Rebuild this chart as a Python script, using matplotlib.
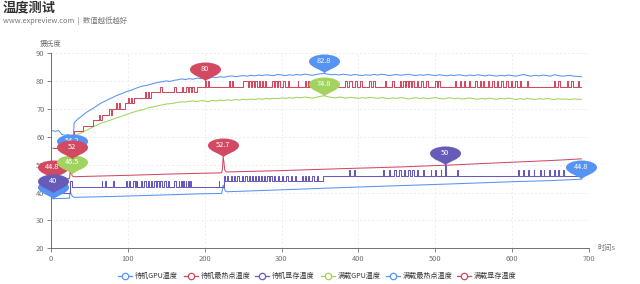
import matplotlib
matplotlib.use("Agg")
import numpy as np
import matplotlib.pyplot as plt
from matplotlib.path import Path
from matplotlib.lines import Line2D

plt.rcParams['font.family'] = ['Noto Sans CJK SC', 'DejaVu Sans']

# ---------------- data ----------------
title = "温度测试"
subtitle = "www.expreview.com  |  数值越低越好"
y_name = "摄氏度"
x_name = "时间s"
series_names = ["待机GPU温度", "待机最热点温度", "待机显存温度",
                "满载GPU温度", "满载最热点温度", "满载显存温度"]
series_colors = ["#5793f3", "#d14a61", "#675bba", "#a2d35f", "#5793f3", "#d14a61"]

x_ticks = [0, 100, 200, 300, 400, 500, 600, 700]
y_ticks = [20, 30, 40, 50, 60, 70, 80, 90]

# idle GPU temperature
t_idle_gpu = [2, 10, 18, 24, 25, 26, 28, 30, 80, 140, 200, 222, 223, 224, 225,
              227, 229, 300, 380, 454, 520, 600, 650, 690]
v_idle_gpu = [37.8, 37.9, 37.9, 38.0, 40.4, 39.6, 38.6, 38.3, 38.6, 39.1, 39.6,
              39.7, 41.0, 42.7, 41.8, 40.6, 40.3, 41.0, 41.8, 42.5, 43.1, 43.9,
              44.3, 44.8]

# idle hotspot temperature
t_idle_hot = [2, 10, 18, 24, 25, 26, 28, 30, 100, 160, 222, 223, 224, 225, 226,
              228, 300, 380, 454, 520, 600, 650, 690]
v_idle_hot = [44.8, 44.9, 44.9, 45.0, 47.6, 46.8, 45.9, 45.7, 46.2, 46.7, 47.1,
              48.5, 52.7, 51.0, 48.2, 47.4, 47.9, 48.6, 49.2, 49.9, 50.9, 51.5,
              52.1]

# idle memory temperature (value changes, held until next change)
idle_vram_steps = [
    (2, 40), (25, 44), (27, 42),
    (66, 44), (67, 42), (70, 44), (71, 42), (81, 44), (82, 42),
    (98, 44), (99, 42), (101, 44), (103, 42), (107, 44), (109, 42), (111, 44), (112, 42),
    (117, 44), (119, 42), (121, 44), (123, 42), (126, 44), (128, 42), (130, 44), (132, 42),
    (134, 44), (136, 42), (138, 44), (140, 42), (142, 44), (144, 42), (147, 44), (149, 42),
    (152, 44), (154, 42), (160, 44), (162, 42), (166, 44), (167, 42), (169, 44), (170, 42),
    (172, 44), (173, 42), (175, 44), (176, 42), (178, 44), (179, 42), (181, 44), (182, 42),
    (218, 44), (219, 42),
    (225, 46), (227, 44), (229, 46), (230, 44), (234, 46), (236, 44), (238, 46), (240, 44),
    (242, 46), (244, 44), (248, 46), (250, 44), (253, 46), (255, 44), (257, 46), (259, 44),
    (261, 46), (263, 44), (265, 46), (267, 44), (269, 46), (271, 44), (273, 46), (275, 44),
    (277, 46), (279, 44), (281, 46), (283, 44), (285, 46), (287, 44), (290, 46), (292, 44),
    (295, 46), (297, 44), (300, 46), (302, 44), (306, 46), (308, 44), (312, 46), (314, 44),
    (318, 46), (319, 44), (326, 46), (328, 44), (330, 46), (332, 44), (334, 46), (336, 44),
    (340, 46), (342, 44), (346, 46), (348, 44), (354, 46),
    (388, 48), (389, 46), (394, 48), (395, 46),
    (432, 48), (433, 46), (440, 48), (441, 46), (446, 48), (449, 46), (453, 48), (456, 46),
    (459, 48), (461, 46), (464, 48), (467, 46), (470, 48), (472, 46), (476, 48), (478, 46),
    (484, 48), (485, 46), (494, 48), (495, 46), (500, 48), (501, 46), (507, 48), (508, 46),
    (513, 50), (514, 46), (528, 48), (529, 46),
    (608, 48), (609, 46), (614, 48), (615, 46), (621, 48), (622, 46), (628, 48), (629, 46),
    (636, 48), (638, 46), (641, 48), (642, 46), (648, 48), (649, 46), (654, 48), (656, 46),
    (660, 48), (661, 46), (666, 48), (667, 46), (690, 46),
]

# load GPU / hotspot temperatures share one sampling grid
t_load = [2, 6, 10, 14, 18, 22, 24, 25, 27, 29] + list(range(30, 691, 5))
v_load_hot = [
    62.2, 62.0, 62.3, 60.9, 60.6, 60.8, 60.5, 57.0, 54.2, 58.5,
    65.0, 66.4, 67.5, 68.6, 69.5, 70.3, 71.2, 72.1, 72.8, 73.5,
    74.1, 74.8, 75.3, 75.9, 76.4, 76.8, 77.4, 77.9, 78.3, 78.5,
    78.9, 79.3, 79.6, 79.8, 80.1, 79.9, 80.3, 80.5, 80.8, 80.6,
    80.9, 80.7, 81.1, 80.9, 81.2, 81.0, 81.4, 81.3, 81.6, 81.4,
    81.7, 81.9, 81.6, 81.8, 82.0, 81.8, 82.1, 81.9, 82.2, 82.0,
    82.3, 82.1, 82.0, 82.4, 82.2, 82.0, 82.3, 82.1, 82.4, 82.2,
    82.5, 82.3, 82.1, 82.4, 82.6, 82.8, 82.5, 82.3, 82.4, 82.2,
    82.5, 82.3, 82.1, 82.4, 82.2, 82.0, 82.3, 82.1, 82.4, 82.2,
    82.5, 82.3, 82.0, 82.2, 82.4, 82.1, 82.3, 82.5, 82.2, 82.0,
    82.3, 82.1, 82.4, 82.2, 82.0, 82.3, 82.1, 81.9, 82.2, 82.0,
    82.3, 82.1, 81.9, 82.2, 82.0, 82.3, 82.1, 81.9, 82.2, 82.0,
    81.8, 82.1, 81.9, 82.2, 82.0, 81.8, 82.1, 82.4, 82.0, 81.8,
    82.1, 81.9, 82.2, 82.0, 81.8, 82.3, 82.0, 81.8, 81.9, 82.1,
    81.8, 81.7, 81.6,
]
v_load_gpu = [
    56.0, 55.8, 56.1, 55.5, 55.3, 55.4, 55.2, 50.0, 46.5, 53.0,
    60.2, 60.9, 61.5, 62.2, 62.9, 63.6, 64.3, 64.9, 65.3, 65.8,
    66.3, 66.8, 67.2, 67.7, 68.2, 68.7, 69.1, 69.5, 69.8, 70.3,
    70.6, 70.9, 71.2, 71.5, 71.8, 71.9, 72.1, 72.4, 72.6, 72.5,
    72.8, 72.9, 72.7, 73.0, 72.9, 72.6, 73.1, 72.9, 73.2, 73.0,
    73.3, 73.1, 73.4, 73.2, 73.5, 73.3, 73.6, 73.4, 73.7, 73.5,
    73.8, 73.6, 73.9, 73.7, 74.0, 73.8, 74.1, 73.9, 74.2, 74.0,
    74.3, 74.1, 73.9, 74.2, 74.5, 74.8, 74.4, 74.2, 74.0, 74.3,
    74.1, 73.9, 74.2, 74.0, 73.8, 74.1, 73.9, 74.2, 74.0, 73.8,
    74.1, 73.9, 73.7, 74.0, 73.8, 74.1, 73.9, 73.6, 73.9, 74.1,
    73.8, 74.0, 73.7, 73.9, 74.1, 73.8, 73.6, 73.9, 74.0, 73.7,
    73.9, 73.6, 73.8, 74.0, 73.7, 73.5, 73.8, 73.6, 73.9, 73.7,
    73.5, 73.8, 73.6, 73.9, 73.7, 73.4, 73.7, 73.5, 73.8, 73.6,
    73.4, 73.7, 73.5, 73.8, 73.6, 73.4, 73.7, 73.5, 73.6, 73.4,
    73.6, 73.5, 73.5,
]

# load memory temperature (value changes, held until next change)
load_vram_steps = [
    (2, 56), (27, 52), (30, 62), (41, 64), (54, 66), (62, 68), (64, 66), (66, 68),
    (76, 70), (78, 68), (80, 70), (84, 72), (86, 70), (88, 72), (90, 70), (96, 72),
    (100, 74), (102, 72), (104, 74), (106, 72), (108, 74), (122, 76), (124, 74),
    (126, 76), (128, 74), (130, 76), (142, 78), (144, 76), (160, 78), (162, 76),
    (170, 78), (172, 76), (176, 78), (178, 76), (180, 78), (182, 76), (184, 78),
    (186, 76), (190, 78), (200, 80), (202, 78), (204, 80), (206, 78),
    (232, 80), (233, 78), (236, 80), (237, 78), (250, 80), (256, 78), (258, 80), (260, 78),
    (262, 80), (264, 78), (266, 80), (268, 78), (270, 80), (272, 78), (274, 80), (276, 78),
    (278, 80), (280, 78), (288, 80), (290, 78), (292, 80), (294, 78), (296, 80), (298, 78),
    (302, 80), (304, 78), (308, 80), (310, 78), (321, 80), (322, 78), (330, 80), (332, 78),
    (334, 80), (336, 78), (345, 80), (347, 78), (383, 80), (385, 78), (388, 80), (392, 78),
    (396, 80), (398, 78), (402, 80), (404, 78), (414, 80), (416, 78), (419, 80), (421, 78),
    (434, 80), (436, 78), (444, 80), (446, 78), (454, 80), (456, 78), (458, 80), (460, 78),
    (462, 80), (464, 78), (466, 80), (468, 78), (470, 80), (472, 78), (476, 80), (478, 78),
    (482, 80), (484, 78), (488, 80), (490, 78), (500, 80), (502, 78), (504, 80), (506, 78),
    (526, 80), (527, 78), (532, 80), (533, 78), (538, 80), (539, 78), (544, 80), (545, 78),
    (552, 80), (554, 78), (558, 80), (560, 78), (562, 80), (564, 78), (568, 80), (570, 78),
    (574, 80), (576, 78), (580, 80), (582, 78), (586, 80), (588, 78), (592, 80), (594, 78),
    (598, 80), (600, 78), (604, 80), (606, 78), (610, 80), (612, 78), (619, 80), (621, 78),
    (654, 80), (656, 78), (660, 80), (662, 78), (671, 80), (673, 78), (677, 80), (679, 78),
    (686, 80), (687, 78), (690, 78),
]

t_idle_vram = [p[0] for p in idle_vram_steps]
v_idle_vram = [p[1] for p in idle_vram_steps]
t_load_vram = [p[0] for p in load_vram_steps]
v_load_vram = [p[1] for p in load_vram_steps]

series = [
    (t_idle_gpu, v_idle_gpu, False),
    (t_idle_hot, v_idle_hot, False),
    (t_idle_vram, v_idle_vram, True),
    (t_load, v_load_gpu, False),
    (t_load, v_load_hot, False),
    (t_load_vram, v_load_vram, True),
]

# ---------------- figure ----------------
W, H = 640, 284
fig = plt.figure(figsize=(W / 100, H / 100), dpi=100)
ax = fig.add_axes([51 / W, (H - 248.3) / H, 538 / W, 195 / H])

axis_col = "#6e7079"
ax.set_xlim(0, 700)
ax.set_ylim(20, 90)
ax.set_xticks(x_ticks)
ax.set_yticks(y_ticks)
ax.tick_params(axis="both", colors=axis_col, labelsize=5.4, length=2.6,
               width=0.6, pad=2)
for s in ("top", "right"):
    ax.spines[s].set_visible(False)
for s in ("left", "bottom"):
    ax.spines[s].set_color(axis_col)
    ax.spines[s].set_linewidth(0.7)
ax.grid(True, color="#e3e6ee", linewidth=0.5, linestyle=(0, (3, 3)))
ax.set_axisbelow(True)

for (t, v, stepped), c in zip(series, series_colors):
    ax.plot(t, v, color=c, lw=0.75, zorder=3,
            drawstyle="steps-post" if stepped else "default")

# balloon-shaped value markers (tip at the data point)
rx, cy, top = 15.5, 12.0, 19.0
pin_verts = [
    (0, 0),
    (-1.5, 3.5), (-rx, 6.0), (-rx, cy),
    (-rx, 16.0), (-8.5, top), (0, top),
    (8.5, top), (rx, 16.0), (rx, cy),
    (rx, 6.0), (1.5, 3.5), (0, 0),
    (0, 0),
]
pin_codes = ([Path.MOVETO] + [Path.CURVE4] * 12 + [Path.CLOSEPOLY])
pin_path = Path(pin_verts, pin_codes)
pin_ms = 2 * top * 0.72

z = 10
for (t, v, stepped), c in zip(series, series_colors):
    arr = np.asarray(v, dtype=float)
    for idx in (int(np.argmax(arr)), int(np.argmin(arr))):
        ax.plot([t[idx]], [v[idx]], marker=pin_path, markersize=pin_ms,
                color=c, markeredgewidth=0, zorder=z, clip_on=False)
        ax.annotate(f"{v[idx]:g}", (t[idx], v[idx]), xytext=(0, cy * 0.72),
                    textcoords="offset points", ha="center", va="center",
                    color="white", fontsize=5.3, zorder=z + 0.5,
                    annotation_clip=False)
        z += 1

# titles and axis names
fig.text(3 / W, 1 - 7.5 / H, title, fontsize=9.5, fontweight="bold",
         color="#333333", ha="left", va="center")
fig.text(3 / W, 1 - 21 / H, subtitle, fontsize=5.3, color="#777777",
         ha="left", va="center")
fig.text(51 / W, 1 - 43.5 / H, y_name, fontsize=5.2, color=axis_col,
         ha="center", va="center")
fig.text(597 / W, 1 - 248.3 / H, x_name, fontsize=5.2, color=axis_col,
         ha="left", va="center")

# legend row
leg_centers = [125, 191, 262, 328, 393, 464]
leg_y = 1 - 275.7 / H
for cx, name, c in zip(leg_centers, series_names, series_colors):
    fig.add_artist(Line2D([(cx - 7) / W, (cx + 7) / W], [leg_y, leg_y],
                          transform=fig.transFigure, color=c, lw=0.9))
    fig.add_artist(Line2D([cx / W], [leg_y], transform=fig.transFigure,
                          marker="o", markersize=4.6, markerfacecolor="white",
                          markeredgecolor=c, markeredgewidth=0.9, lw=0))
    fig.text((cx + 10) / W, leg_y, name, fontsize=5.1, color="#333333",
             ha="left", va="center")

fig.savefig("out.png", dpi=100)
